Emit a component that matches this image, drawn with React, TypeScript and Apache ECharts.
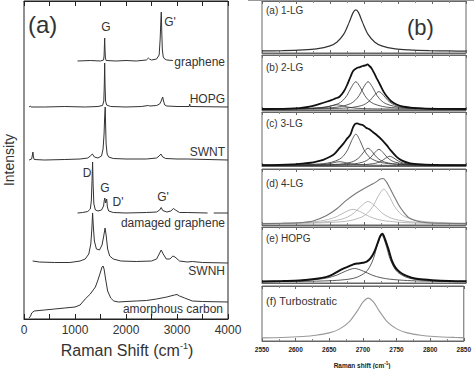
import React, { useEffect, useRef } from 'react';
import * as echarts from 'echarts';

type P = [number, number | null];

// ---------- Panel (a): Raman spectra (offset units, arbitrary) ----------
const ramanTicks = [0, 1000, 2000, 3000, 4000];

const specGraphene: P[] = [
  [1050, 258], [1300, 258.5], [1500, 258], [1560, 259], [1570, 263], [1578, 275], [1582, 281], [1588, 270],
  [1596, 261], [1610, 258.5], [1800, 258], [2000, 258.5], [2200, 258], [2400, 259], [2440, 261], [2460, 260],
  [2500, 259], [2600, 260], [2650, 264], [2670, 280], [2685, 300], [2692, 307], [2700, 290], [2712, 270],
  [2730, 262], [2760, 260], [2800, 259], [2920, 258.5],
];
const specHOPG: P[] = [
  [100, 212], [120, 213], [140, 212], [400, 212], [800, 212.5], [1200, 212], [1450, 212.5], [1540, 213.5],
  [1565, 218], [1575, 235], [1582, 256], [1590, 232], [1600, 218], [1620, 214], [1700, 212.5], [2000, 212],
  [2300, 212.5], [2440, 213.5], [2470, 213], [2600, 213.5], [2660, 215], [2690, 218], [2710, 221], [2720, 222],
  [2735, 218], [2760, 214], [2800, 213], [3000, 212.5], [3240, 212.5], [3250, 215], [3260, 212.5], [4000, 212],
];
const specSWNT: P[] = [
  [100, 159], [150, 160], [165, 164], [175, 167], [185, 162], [200, 159.5], [400, 159], [800, 159.5],
  [1100, 160], [1250, 161], [1300, 163], [1340, 165], [1380, 162], [1450, 161], [1520, 163], [1550, 170],
  [1570, 185], [1580, 200], [1592, 212], [1600, 195], [1610, 175], [1630, 165], [1660, 162], [1750, 160.5],
  [2000, 160], [2400, 160], [2600, 161], [2650, 163], [2685, 165], [2720, 162], [2780, 160.5], [3000, 160],
  [3200, 160], [4000, 159],
];
const specDamaged: P[] = [
  [1050, 106], [1150, 106.5], [1250, 107.5], [1300, 110], [1320, 118], [1335, 140], [1345, 157], [1355, 135],
  [1370, 115], [1400, 109], [1450, 108], [1520, 109], [1560, 113], [1575, 119], [1585, 121], [1600, 116],
  [1615, 119], [1622, 120], [1635, 112], [1660, 108], [1750, 106.5], [2000, 106], [2400, 106.5], [2600, 107],
  [2660, 109], [2690, 111.5], [2720, 108.5], [2800, 107], [2880, 108], [2930, 110.5], [2970, 109], [3050, 106.5],
  [3200, 106.5], [3600, 106], [3650, null], [3720, 106], [4000, 106],
];
const specSWNH: P[] = [
  [170, 58], [300, 57], [600, 56.5], [900, 56.5], [1100, 58], [1200, 60], [1270, 65], [1310, 75], [1330, 90],
  [1345, 106], [1360, 92], [1380, 78], [1420, 70], [1480, 69], [1530, 74], [1560, 82], [1590, 91], [1610, 84],
  [1640, 70], [1680, 63], [1750, 60], [1900, 58], [2200, 57.5], [2500, 58], [2600, 60], [2650, 65], [2690, 69],
  [2730, 65], [2790, 60], [2860, 60], [2920, 63], [2960, 62], [3050, 58], [3200, 57], [3300, 57.5], [3500, 56.5],
  [4000, 56],
];
const specAmorphous: P[] = [
  [100, 1], [130, 3], [150, 6], [200, 8], [400, 9], [600, 10], [800, 11], [1000, 12], [1100, 14], [1150, 17],
  [1200, 20], [1300, 25], [1400, 32], [1450, 39], [1500, 47], [1530, 52], [1550, 53], [1570, 50], [1600, 40],
  [1640, 28], [1700, 21], [1760, 18], [1850, 17], [2000, 17.5], [2200, 18], [2400, 18.5], [2600, 20], [2800, 22],
  [2950, 24], [3000, 24.5], [3050, 23], [3150, 21], [3300, 18], [3500, 17.5], [4000, 17],
];

// ---------- Panel (b): 2D band, % of sub-panel height ----------
const shiftTicks = [2550, 2600, 2650, 2700, 2750, 2800, 2850];

const lg1: P[] = [
  [2550, 3.9], [2580, 4.5], [2610, 5.9], [2630, 8], [2650, 13.8], [2660, 20.8], [2670, 35.8], [2678, 58.4],
  [2684, 77.7], [2688, 83], [2692, 77.7], [2698, 58.4], [2706, 35.8], [2716, 20.8], [2726, 13.8], [2746, 8],
  [2766, 5.9], [2796, 4.5], [2826, 3.9], [2850, 3.7],
];

const lg2Env: P[] = [
  [2550, 1.5], [2570, 2], [2590, 2.5], [2605, 3.5], [2615, 5], [2625, 7.5], [2635, 11], [2645, 15], [2652, 18],
  [2658, 21], [2664, 24], [2670, 33], [2675, 45], [2680, 60], [2684, 71], [2689, 76], [2694, 78], [2698, 80],
  [2702, 81], [2705, 83], [2708, 80], [2711, 76], [2715, 67], [2719, 57], [2724, 45], [2729, 33], [2734, 24],
  [2740, 16], [2748, 10], [2758, 6], [2768, 4.5], [2785, 3], [2810, 2.2], [2850, 1.8],
];
const lg2C1: P[] = [
  [2550, 1.6], [2600, 2.0], [2630, 3.1], [2645, 5.5], [2652, 7.8], [2660, 9.5], [2668, 7.8], [2675, 5.5],
  [2690, 3.1], [2720, 2.0], [2770, 1.6], [2850, 1.5],
];
const lg2C2: P[] = [
  [2550, 2.0], [2610, 2.9], [2636, 4.4], [2649, 6.5], [2662, 11.5], [2668.5, 16.9], [2675, 26.5], [2681.5, 41.5],
  [2688, 51.5], [2694.5, 41.5], [2701, 26.5], [2707.5, 16.9], [2714, 11.5], [2727, 6.5], [2740, 4.4], [2766, 2.9],
  [2818, 2.0], [2850, 1.8],
];
const lg2C3: P[] = [
  [2550, 1.9], [2628, 2.9], [2654, 4.4], [2667, 6.5], [2680, 11.5], [2686.5, 16.9], [2693, 26.5], [2699.5, 41.5],
  [2706, 51.5], [2712.5, 41.5], [2719, 26.5], [2725.5, 16.9], [2732, 11.5], [2745, 6.5], [2758, 4.4], [2784, 2.9],
  [2836, 2.0], [2850, 1.9],
];
const lg2C4: P[] = [
  [2550, 1.7], [2592, 1.8], [2644, 2.4], [2670, 3.4], [2683, 4.7], [2696, 7.9], [2702.5, 11.4], [2709, 17.5],
  [2715.5, 27.1], [2722, 33.5], [2728.5, 27.1], [2735, 17.5], [2741.5, 11.4], [2748, 7.9], [2761, 4.7], [2774, 3.4],
  [2800, 2.4], [2850, 1.8],
];

const lg3Env: P[] = [
  [2550, 1.5], [2575, 2], [2595, 3], [2610, 4.5], [2622, 6], [2630, 8], [2640, 11.5], [2650, 17], [2657, 23],
  [2664, 33], [2670, 42], [2676, 52], [2680, 58], [2684, 72], [2687, 78], [2690, 79], [2694, 77], [2698, 76],
  [2703, 71], [2708, 68], [2713, 63], [2719, 57], [2726, 49], [2733, 39], [2740, 28], [2748, 17], [2756, 10],
  [2768, 5], [2785, 3], [2810, 2], [2850, 1.5],
];
const lg3C1: P[] = [
  [2550, 1.07], [2580, 1.2], [2608, 1.4], [2622, 1.7], [2636, 2.4], [2643, 3.2], [2650, 4.5], [2657, 6.6],
  [2664, 8], [2671, 6.6], [2678, 4.5], [2685, 3.2], [2692, 2.4], [2706, 1.7], [2720, 1.4], [2748, 1.2], [2850, 1.05],
];
const lg3C2: P[] = [
  [2550, 1.5], [2568, 1.6], [2616, 2.6], [2640, 4.4], [2652, 6.8], [2664, 12.6], [2670, 18.9], [2676, 30],
  [2682, 47.4], [2688, 59], [2694, 47.4], [2700, 30], [2706, 18.9], [2712, 12.6], [2724, 6.8], [2736, 4.4],
  [2760, 2.6], [2808, 1.6], [2850, 1.4],
];
const lg3C3: P[] = [
  [2550, 1.2], [2586, 1.3], [2634, 1.9], [2658, 2.9], [2670, 4.2], [2682, 7.4], [2688, 10.9], [2694, 17],
  [2700, 26.6], [2706, 33], [2712, 26.6], [2718, 17], [2724, 10.9], [2730, 7.4], [2742, 4.2], [2754, 2.9],
  [2778, 1.9], [2826, 1.3], [2850, 1.2],
];
const lg3C4: P[] = [
  [2550, 1.2], [2602, 1.3], [2650, 1.8], [2674, 2.8], [2686, 4], [2698, 7], [2704, 10.2], [2710, 16], [2716, 25],
  [2722, 31], [2728, 25], [2734, 16], [2740, 10.2], [2746, 7], [2758, 4], [2770, 2.8], [2794, 1.8], [2842, 1.3],
  [2850, 1.3],
];
const lg3C5: P[] = [
  [2550, 1.1], [2618, 1.2], [2666, 1.5], [2690, 2], [2702, 2.7], [2714, 4.4], [2720, 6.2], [2726, 9.5],
  [2732, 14.6], [2738, 18], [2744, 14.6], [2750, 9.5], [2756, 6.2], [2762, 4.4], [2774, 2.7], [2786, 2],
  [2810, 1.5], [2850, 1.2],
];

const lg4Env: P[] = [
  [2550, 2.5], [2580, 3], [2605, 4], [2625, 7], [2645, 17], [2660, 29], [2674, 44], [2689, 57], [2700, 65],
  [2709, 71], [2718, 77], [2724, 82], [2728, 83], [2733, 77], [2738, 66], [2744, 52], [2750, 38], [2757, 25],
  [2765, 14], [2775, 8], [2790, 4.5], [2815, 3], [2850, 2.5],
];
const lg4C1: P[] = [
  [2550, 2.8], [2580, 3.3], [2612, 4.6], [2636, 7.2], [2648, 10], [2660, 15], [2672, 22.8], [2684, 28],
  [2696, 22.8], [2708, 15], [2720, 10], [2732, 7.2], [2756, 4.6], [2780, 3.5], [2828, 2.7], [2850, 2.6],
];
const lg4C2: P[] = [
  [2550, 2.6], [2586, 3.1], [2626, 4.35], [2646, 6], [2666, 10], [2676, 14.3], [2686, 22], [2696, 34], [2706, 42],
  [2716, 34], [2726, 22], [2736, 14.3], [2746, 10], [2766, 6], [2786, 4.35], [2826, 3.1], [2850, 2.8],
];
const lg4C3: P[] = [
  [2550, 2.5], [2569, 2.6], [2633, 3.7], [2665, 5.6], [2681, 8.2], [2697, 14.4], [2705, 21.1], [2713, 33],
  [2721, 51.6], [2729, 64], [2737, 51.6], [2745, 33], [2753, 21.1], [2761, 14.4], [2777, 8.2], [2793, 5.6],
  [2825, 3.7], [2850, 3.2],
];

const hopgEnv: P[] = [
  [2550, 2.5], [2580, 3.5], [2605, 4.5], [2630, 7.5], [2645, 11], [2655, 16], [2665, 23], [2672, 27], [2680, 31],
  [2686, 34], [2692, 35], [2698, 36], [2704, 38], [2710, 45], [2715, 55], [2720, 71], [2724, 84], [2727, 88],
  [2731, 78], [2736, 60], [2741, 40], [2746, 28], [2752, 20], [2760, 14], [2770, 9.5], [2780, 7], [2800, 5],
  [2825, 3.5], [2850, 3],
];
const hopgC1: P[] = [
  [2550, 2.8], [2582, 3.4], [2608, 4.4], [2634, 6.8], [2647, 9.4], [2660, 14], [2673, 21.2], [2686, 26],
  [2699, 21.2], [2712, 14], [2725, 9.4], [2738, 6.8], [2764, 4.4], [2790, 3.4], [2842, 2.6], [2850, 2.6],
];
const hopgC2: P[] = [
  [2550, 2.5], [2606, 2.8], [2654, 4.3], [2678, 6.9], [2690, 10.4], [2702, 18.8], [2708, 27.9], [2714, 44],
  [2720, 69.2], [2726, 86], [2732, 69.2], [2738, 44], [2744, 27.9], [2750, 18.8], [2762, 10.4], [2774, 6.9],
  [2798, 4.3], [2846, 2.8], [2850, 2.8],
];

const turbo: P[] = [
  [2550, 5.7], [2580, 6.5], [2610, 8.2], [2630, 10.4], [2650, 14.8], [2665, 21.6], [2680, 35.4], [2692, 55.2],
  [2700, 70.6], [2708, 78], [2716, 70.6], [2724, 55.2], [2736, 35.4], [2751, 21.6], [2766, 14.8], [2786, 10.4],
  [2806, 8.2], [2836, 6.5], [2850, 6.1],
];

const spectraA = [
  { name: 'graphene', data: specGraphene },
  { name: 'HOPG', data: specHOPG },
  { name: 'SWNT', data: specSWNT },
  { name: 'damaged graphene', data: specDamaged },
  { name: 'SWNH', data: specSWNH },
  { name: 'amorphous carbon', data: specAmorphous },
];

const panelsB = [
  { label: '(a) 1-LG', env: lg1, comps: [] as P[][], envColor: '#333', envW: 1.2, compColor: '#444' },
  { label: '(b) 2-LG', env: lg2Env, comps: [lg2C1, lg2C2, lg2C3, lg2C4], envColor: '#111', envW: 1.8, compColor: '#333' },
  { label: '(c) 3-LG', env: lg3Env, comps: [lg3C1, lg3C2, lg3C3, lg3C4, lg3C5], envColor: '#111', envW: 1.8, compColor: '#333' },
  { label: '(d) 4-LG', env: lg4Env, comps: [lg4C1, lg4C2, lg4C3], envColor: '#777', envW: 1.1, compColor: '#aaa' },
  { label: '(e) HOPG', env: hopgEnv, comps: [hopgC1, hopgC2], envColor: '#111', envW: 2, compColor: '#333' },
  { label: '(f) Turbostratic', env: turbo, comps: [] as P[][], envColor: '#999', envW: 1.1, compColor: '#999' },
];

const FONT = 'Liberation Sans, Arial, sans-serif';

export default function App() {
  const ref = useRef<HTMLDivElement>(null);
  useEffect(() => {
    if (!ref.current) return;
    const chart = echarts.init(ref.current, null, { renderer: 'svg' });

    const bTops = [1, 55, 112, 169, 227, 286];
    const bHeights = [52, 55, 54, 56, 56, 55];
    const bLabelY = [10, 67, 123, 183, 238, 301];

    const grids: any[] = [
      { left: 24, top: 1, width: 204, height: 318, show: true, borderColor: '#222', borderWidth: 1 },
    ];
    const xAxes: any[] = [
      {
        type: 'value', gridIndex: 0, min: 0, max: 4000, interval: 500, position: 'bottom',
        axisLine: { show: true, lineStyle: { color: '#222' } },
        axisTick: { show: true, inside: true, length: 5, lineStyle: { color: '#222' } },
        axisLabel: {
          color: '#333', fontSize: 12, fontFamily: FONT, margin: 5,
          formatter: (v: number) => (ramanTicks.includes(v) ? String(v) : ''),
        },
        splitLine: { show: false },
      },
      {
        type: 'value', gridIndex: 0, min: 0, max: 4000, interval: 500, position: 'top',
        axisLine: { show: true, lineStyle: { color: '#222' } },
        axisTick: { show: true, inside: true, length: 5, lineStyle: { color: '#222' } },
        axisLabel: { show: false }, splitLine: { show: false },
      },
    ];
    const yAxes: any[] = [
      { type: 'value', gridIndex: 0, min: 0, max: 318, show: false },
    ];
    const series: any[] = [];
    spectraA.forEach((s) => {
      series.push({
        type: 'line', name: s.name, xAxisIndex: 0, yAxisIndex: 0, data: s.data, showSymbol: false,
        connectNulls: false, lineStyle: { color: '#333', width: 1 }, silent: true,
      });
    });

    panelsB.forEach((p, i) => {
      const gi = i + 1;
      grids.push({ left: 262, top: bTops[i], width: 204, height: bHeights[i], show: true, borderColor: '#666', borderWidth: 1 });
      const last = i === panelsB.length - 1;
      xAxes.push({
        type: 'value', gridIndex: gi, min: 2550, max: 2850, interval: 50, position: 'bottom',
        axisLine: { show: true, lineStyle: { color: '#666' } },
        axisTick: { show: true, inside: true, length: 3, lineStyle: { color: '#666' } },
        minorTick: { show: true, splitNumber: 2, length: 2, lineStyle: { color: '#888' } },
        axisLabel: {
          show: last, color: '#222', fontSize: 6.5, fontWeight: 'bold', fontFamily: FONT, margin: 5,
          formatter: (v: number) => (shiftTicks.includes(v) ? String(v) : ''),
        },
        splitLine: { show: false },
      });
      xAxes.push({
        type: 'value', gridIndex: gi, min: 2550, max: 2850, interval: 50, position: 'top',
        axisLine: { show: true, lineStyle: { color: '#666' } },
        axisTick: { show: true, inside: true, length: 3, lineStyle: { color: '#666' } },
        minorTick: { show: true, splitNumber: 2, length: 2, lineStyle: { color: '#888' } },
        axisLabel: { show: false }, splitLine: { show: false },
      });
      yAxes.push({ type: 'value', gridIndex: gi, min: 0, max: 100, show: false });
      const xi = 2 + i * 2;
      p.comps.forEach((c) => {
        series.push({
          type: 'line', xAxisIndex: xi, yAxisIndex: gi, data: c, showSymbol: false, silent: true,
          smooth: 0.3, lineStyle: { color: p.compColor, width: 0.8 },
        });
      });
      series.push({
        type: 'line', xAxisIndex: xi, yAxisIndex: gi, data: p.env, showSymbol: false, silent: true,
        smooth: 0.3, lineStyle: { color: p.envColor, width: p.envW },
      });
    });

    const txt = (text: string, x: number, y: number, fontSize: number, align = 'left', extra: any = {}) => ({
      type: 'text', x, y, silent: true,
      style: { text, fontSize, fontFamily: FONT, fill: '#333', align, verticalAlign: 'middle', ...extra },
    });

    const graphic: any[] = [
      txt('(a)', 28, 24, 24),
      txt('G', 106, 27, 12, 'center'),
      txt("G'", 170, 22, 12, 'center'),
      txt('D', 87, 173, 12, 'center'),
      txt('G', 105, 188, 12, 'center'),
      txt("D'", 118, 202, 12, 'center'),
      txt("G'", 163, 197, 12, 'center'),
      txt('graphene', 225, 62, 12, 'right'),
      txt('HOPG', 225, 99, 12, 'right'),
      txt('SWNT', 225, 152, 12, 'right'),
      txt('damaged graphene', 225, 223, 12, 'right'),
      txt('SWNH', 225, 271, 12, 'right'),
      txt('amorphous carbon', 223, 309, 12, 'right'),
      {
        type: 'text', x: 9, y: 160, rotation: Math.PI / 2, silent: true,
        style: { text: 'Intensity', fontSize: 14, fontFamily: FONT, fill: '#333', align: 'center', verticalAlign: 'middle' },
      },
      {
        type: 'text', x: 127, y: 350, silent: true,
        style: {
          text: '{a|Raman Shift (cm}{s|-1}{a|)}', fontFamily: FONT, fill: '#333', align: 'center', verticalAlign: 'middle',
          rich: {
            a: { fontSize: 16, fontFamily: FONT, fill: '#333', color: '#333' },
            s: { fontSize: 9, fontFamily: FONT, fill: '#333', color: '#333', padding: [0, 0, 9, 0] },
          },
        },
      },
      txt('(b)', 407, 27, 22),
      {
        type: 'text', x: 362, y: 365, silent: true,
        style: {
          text: '{a|Raman shift (cm}{s|-1}{a|)}', fontFamily: FONT, fill: '#222', align: 'center', verticalAlign: 'middle',
          rich: {
            a: { fontSize: 6.5, fontWeight: 'bold', fontFamily: FONT, fill: '#222', color: '#222' },
            s: { fontSize: 4.5, fontWeight: 'bold', fontFamily: FONT, fill: '#222', color: '#222', padding: [0, 0, 4, 0] },
          },
        },
      },
      { type: 'line', silent: true, shape: { x1: 248, y1: 0.5, x2: 474, y2: 0.5 }, style: { stroke: '#999', lineWidth: 1 } },
    ];
    panelsB.forEach((p, i) => {
      graphic.push(txt(p.label, 266, bLabelY[i], i === 5 ? 11 : 10));
    });

    chart.setOption({
      animation: false,
      backgroundColor: '#fff',
      grid: grids,
      xAxis: xAxes,
      yAxis: yAxes,
      series,
      graphic,
    });
    return () => chart.dispose();
  }, []);
  return <div ref={ref} style={{ width: 474, height: 369, position: 'absolute', left: 0, top: 0 }} />;
}
